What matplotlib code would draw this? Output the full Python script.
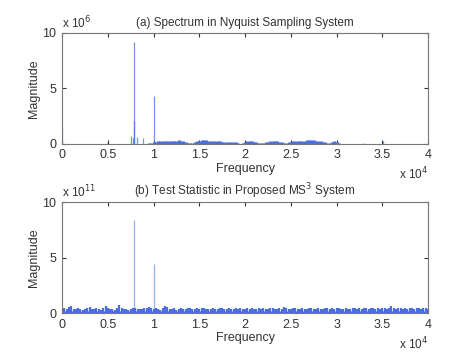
import numpy as np
import matplotlib.pyplot as plt
from matplotlib.ticker import FuncFormatter

# (a) spectrum: isolated spectral lines (Hz, magnitude)
peak_freq_a = [0, 4900, 7500, 7700, 7830, 7850, 8200, 8800, 10000, 33000, 35100]
peak_mag_a = [1.5e6, 0.1e6, 0.7e6, 0.5e6, 9.2e6, 2.1e6, 0.6e6, 0.5e6, 4.3e6, 0.08e6, 0.25e6]

# (a) broadband part, 9500..30500 Hz every 250 Hz (units of 1e6)
band_start_a = 9500
band_a = [0.04, 0.10, 0.18, 0.20, 0.22, 0.24, 0.23, 0.26, 0.25, 0.28,
          0.27, 0.30, 0.28, 0.31, 0.29, 0.24, 0.20, 0.12, 0.06, 0.04,
          0.15, 0.24, 0.30, 0.32, 0.31, 0.33, 0.30, 0.27, 0.26, 0.24,
          0.22, 0.23, 0.20, 0.18, 0.17, 0.19, 0.21, 0.18, 0.13, 0.08,
          0.03, 0.10, 0.18, 0.22, 0.25, 0.24, 0.20, 0.17, 0.12, 0.06,
          0.05, 0.14, 0.20, 0.24, 0.26, 0.25, 0.22, 0.20, 0.16, 0.12,
          0.10, 0.15, 0.19, 0.22, 0.24, 0.23, 0.25, 0.28, 0.30, 0.33,
          0.35, 0.34, 0.32, 0.30, 0.26, 0.22, 0.17, 0.13, 0.10, 0.12,
          0.18, 0.22, 0.15, 0.06, 0.02]

# (b) test statistic: isolated lines
peak_freq_b = [7830, 10000]
peak_mag_b = [8.4e11, 4.4e11]

# (b) floor, 0..40000 Hz every 250 Hz (units of 1e11)
band_start_b = 0
band_b = [0.30, 0.42, 0.35, 0.55, 0.62, 0.40, 0.33, 0.45, 0.38, 0.30,
          0.36, 0.48, 0.52, 0.40, 0.34, 0.42, 0.38, 0.30, 0.45, 0.60,
          0.50, 0.36, 0.40, 0.32, 0.44, 0.70, 0.48, 0.35, 0.40, 0.30,
          0.38, 0.46, 0.42, 0.34, 0.40, 0.36, 0.44, 0.50, 0.58, 0.42,
          0.38, 0.45, 0.40, 0.32, 0.48, 0.60, 0.52, 0.40, 0.36, 0.42,
          0.30, 0.40, 0.46, 0.38, 0.34, 0.42, 0.48, 0.40, 0.36, 0.44,
          0.38, 0.42, 0.50, 0.40, 0.34, 0.38, 0.44, 0.36, 0.40, 0.46,
          0.42, 0.35, 0.40, 0.45, 0.38, 0.34, 0.42, 0.36, 0.44, 0.40,
          0.37, 0.43, 0.39, 0.46, 0.40, 0.35, 0.42, 0.38, 0.44, 0.40,
          0.36, 0.42, 0.48, 0.40, 0.38, 0.44, 0.40, 0.52, 0.45, 0.40,
          0.36, 0.42, 0.46, 0.40, 0.38, 0.44, 0.40, 0.36, 0.42, 0.48,
          0.40, 0.36, 0.44, 0.40, 0.38, 0.42, 0.46, 0.40, 0.44, 0.38,
          0.42, 0.48, 0.40, 0.36, 0.44, 0.40, 0.38, 0.46, 0.42, 0.40,
          0.44, 0.38, 0.42, 0.48, 0.40, 0.45, 0.42, 0.38, 0.44, 0.40,
          0.46, 0.42, 0.40, 0.44, 0.60, 0.42, 0.40, 0.46, 0.44, 0.40,
          0.42, 0.38, 0.46, 0.44, 0.40, 0.42, 0.48, 0.40, 0.44, 0.42,
          0.40]

blue = '#4a6fe3'
plt.rcParams['font.family'] = ['Liberation Sans', 'DejaVu Sans']
plt.rcParams['font.size'] = 9


def style(ax, scale_text):
    ax.set_xlim(0, 40000)
    ax.set_ylim(0, 10)
    ax.set_xticks(np.arange(0, 40001, 5000))
    ax.set_yticks([0, 5, 10])
    ax.xaxis.set_major_formatter(FuncFormatter(lambda v, p: '%g' % (v / 1e4)))
    ax.tick_params(direction='in', top=True, right=True, length=3,
                   colors='#333333', labelsize=9, pad=4)
    for s in ax.spines.values():
        s.set_color('#777777')
        s.set_linewidth(0.8)
    ax.set_xlabel('Frequency', labelpad=1, color='#333333')
    ax.set_ylabel('Magnitude', labelpad=2, color='#333333')
    ax.text(0.0, 1.015, scale_text, transform=ax.transAxes, fontsize=8.5,
            ha='left', va='bottom', color='#333333')
    ax.text(1.0, -0.20, r'x 10$^{4}$', transform=ax.transAxes, fontsize=8.5,
            ha='right', va='top', color='#333333')


fig = plt.figure(figsize=(4.74, 3.57), dpi=100)
ax1 = fig.add_axes([0.131, 0.597, 0.772, 0.311])
ax2 = fig.add_axes([0.131, 0.123, 0.772, 0.311])

# top
fa = band_start_a + 250 * np.arange(len(band_a))
ax1.vlines(fa, 0, band_a, color=blue, lw=2.3)
ax1.vlines(peak_freq_a, 0, np.array(peak_mag_a) / 1e6, color=blue, lw=0.9, alpha=0.75)
style(ax1, r'x 10$^{6}$')
ax1.set_title('(a) Spectrum in Nyquist Sampling System', fontsize=8.5, pad=5,
              color='#333333')

# bottom
fb = band_start_b + 250 * np.arange(len(band_b))
ax2.vlines(fb, 0, band_b, color=blue, lw=1.6)
ax2.vlines(fb, 0, 0.15, color=blue, lw=2.5)
ax2.vlines(peak_freq_b, 0, np.array(peak_mag_b) / 1e11, color=blue, lw=0.9, alpha=0.55)
style(ax2, r'x 10$^{11}$')
ax2.set_title(r'(b) Test Statistic in Proposed MS$^{3}$ System', fontsize=8.5, pad=5,
              color='#333333')

fig.savefig('out.png', dpi=100)
